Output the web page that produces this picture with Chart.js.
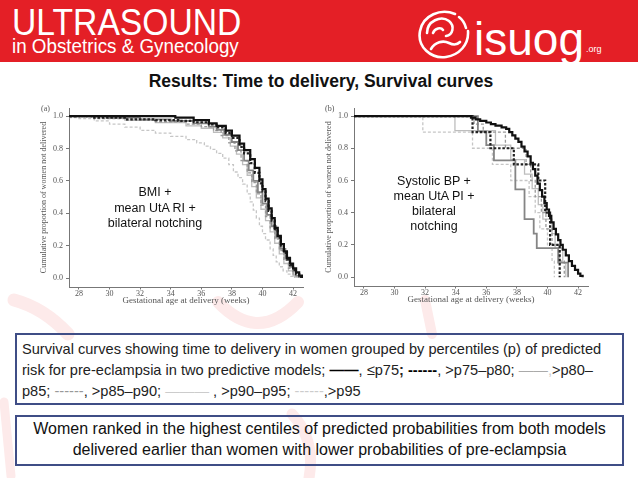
<!DOCTYPE html>
<html><head><meta charset="utf-8">
<script src="https://cdn.jsdelivr.net/npm/chart.js@4"></script>
<style>
html,body{margin:0;padding:0;}
body{width:638px;height:478px;position:relative;overflow:hidden;background:#fff;font-family:"Liberation Sans",Arial,sans-serif;color:#111;}
.abs{position:absolute;white-space:nowrap;}
#hdr{position:absolute;left:0;top:0;width:638px;height:62px;background:#e41f26;}
.wt{color:#fff;}
.box{position:absolute;left:15px;width:605px;border:2px solid #3f4d86;background:transparent;box-sizing:content-box;}
.serif{font-family:"Liberation Serif","DejaVu Serif",serif;color:#555;}
</style></head><body>
<svg class="abs" style="left:0;top:0" width="638" height="478">
  <g fill="none" stroke="#fdeaea" stroke-linecap="round">
    <path d="M14,300 Q44,308 68,334" stroke-width="13"/>
    <path d="M218,302 Q258,344 298,302" stroke-width="12"/>
    <path d="M425,300 L432,334" stroke-width="10"/>
    <path d="M4,402 L11,476" stroke-width="9"/>
    <path d="M292,414 Q316,440 309,478" stroke-width="11"/>
  </g>
</svg>
<div id="hdr">
  <div class="abs wt" style="left:12px;top:4.5px;font-size:36px;line-height:36px;transform:scaleX(0.935);transform-origin:0 0;">ULTRASOUND</div>
  <div class="abs wt" style="left:12px;top:36px;font-size:20px;line-height:20px;transform:scaleX(0.94);transform-origin:0 0;">in Obstetrics &amp; Gynecology</div>
  <svg class="abs" style="left:415px;top:9px" width="58" height="52" viewBox="0 0 58 52">
    <g fill="none" stroke="#fff" stroke-width="2.6" stroke-linecap="round">
      <path d="M40,5 C26,-1 8,6 5,22 C2,38 16,50 31,48 C44,46 54,36 53,22"/>
      <path d="M12,24 C12,12 26,6 34,12 C40,17 38,26 31,27"/>
      <path d="M18,24 C20,19 26,18 28,21"/>
      <path d="M16,40 C20,33 28,31 34,34 C38,36 42,36 45,33"/>
      <path d="M44,8 C48,11 50,15 51,19"/>
    </g>
  </svg>
  <div class="abs wt" style="left:474px;top:16px;font-size:46px;line-height:46px;">isuog</div>
  <div class="abs wt" style="left:586px;top:45px;font-size:9px;line-height:9px;">.org</div>
</div>
<div class="abs" style="left:0;width:642px;top:73.2px;font-size:17.5px;line-height:17.5px;font-weight:bold;text-align:center;">Results: Time to delivery, Survival curves</div>

<div class="abs" style="left:30px;top:100px;width:280px;height:210px;"><canvas id="ca" width="280" height="210"></canvas></div>
<div class="abs" style="left:315px;top:100px;width:280px;height:210px;"><canvas id="cb" width="280" height="210"></canvas></div>
<div class="abs serif" style="left:41px;top:105px;font-size:8px;line-height:8px;">(a)</div>
<div class="abs serif" style="left:325px;top:105px;font-size:8px;line-height:8px;">(b)</div>
<div class="abs" style="left:75px;width:160px;top:185.4px;font-size:12.5px;line-height:15.5px;text-align:center;">BMI +<br>mean UtA RI +<br>bilateral notching</div>
<div class="abs" style="left:354px;width:160px;top:173.7px;font-size:12.5px;line-height:15px;text-align:center;">Systolic BP +<br>mean UtA PI +<br>bilateral<br>notching</div>

<div class="box" style="top:333px;height:68px;">
  <div class="abs" style="left:5px;top:3.5px;font-size:14.6px;line-height:21px;color:#222;">Survival curves showing time to delivery in women grouped by percentiles (p) of predicted<br>risk for pre-eclampsia in two predictive models; <b style="color:#000">——</b>, ≤p75<b>;</b> <b style="color:#000">------</b>, &gt;p75–p80; <span style="color:#aaa">——</span><span style="color:#ccc">,</span>&gt;p80–<br>p85; <span style="color:#999">------</span>, &gt;p85–p90; <span style="color:#ccc">———</span> , &gt;p90–p95; <span style="color:#ccc">------</span>,&gt;p95</div>
</div>
<div class="box" style="top:415px;height:47px;">
  <div class="abs" style="left:0;width:605px;top:0.8px;font-size:16px;line-height:21px;text-align:center;color:#111;">Women ranked in the highest centiles of predicted probabilities from both models<br>delivered earlier than women with lower probabilities of pre-eclampsia</div>
</div>

<script>
// ---- data ----
const xTicks = [28, 30, 32, 34, 36, 38, 40, 42];
const yTicks = [0, 0.2, 0.4, 0.6, 0.8, 1.0];
const seriesLabels = ['≤p75', '>p75–p80', '>p80–p85', '>p85–p90', '>p90–p95', '>p95'];
const xTitle = 'Gestational age at delivery (weeks)';
const yTitle = 'Cumulative proportion of women not delivered';

// Panel (a): BMI + mean UtA RI + bilateral notching  [week, proportion]
const a_le75 = [[27.35,1],[34.3,0.99],[35.5,0.975],[36.5,0.955],[37.0,0.94],[37.6,0.91],[38.0,0.88],[38.5,0.83],[38.8,0.79],[39.2,0.735],[39.5,0.68],[39.8,0.61],[40.0,0.55],[40.2,0.49],[40.4,0.43],[40.6,0.37],[40.8,0.31],[41.0,0.26],[41.2,0.21],[41.4,0.165],[41.6,0.125],[41.8,0.09],[42.0,0.06],[42.2,0.035],[42.4,0.015],[42.6,0]];
const a_p75_80 = [[27.35,1],[29.0,0.99],[31.0,0.98],[33.0,0.975],[34.5,0.97],[35.5,0.962],[36.5,0.948],[37.0,0.93],[37.6,0.895],[38.0,0.865],[38.5,0.81],[38.8,0.77],[39.2,0.71],[39.5,0.65],[39.8,0.585],[40.0,0.535],[40.2,0.475],[40.4,0.415],[40.6,0.355],[40.8,0.30],[41.0,0.25],[41.2,0.2],[41.4,0.155],[41.6,0.115],[41.8,0.08],[42.0,0.05],[42.2,0.025],[42.4,0.008],[42.5,0]];
const a_p80_85 = [[27.35,1],[30.0,0.99],[32.0,0.98],[34.0,0.97],[35.5,0.955],[36.5,0.935],[37.0,0.915],[37.5,0.885],[38.0,0.84],[38.4,0.79],[38.8,0.725],[39.1,0.665],[39.4,0.60],[39.7,0.53],[40.0,0.46],[40.3,0.39],[40.6,0.32],[40.9,0.25],[41.2,0.18],[41.5,0.12],[41.8,0.07],[42.0,0.04],[42.2,0.015],[42.35,0]];
const a_p85_90 = [[27.35,0.995],[29.0,0.985],[31.0,0.975],[33.0,0.965],[35.0,0.95],[36.0,0.935],[36.8,0.91],[37.3,0.88],[37.8,0.835],[38.2,0.785],[38.6,0.725],[39.0,0.65],[39.3,0.59],[39.6,0.52],[39.9,0.45],[40.2,0.38],[40.5,0.31],[40.8,0.24],[41.1,0.17],[41.4,0.11],[41.7,0.06],[42.0,0.025],[42.2,0]];
const a_p90_95 = [[27.35,1],[29.0,0.99],[31.0,0.975],[33.0,0.96],[35.0,0.94],[36.0,0.925],[36.8,0.9],[37.4,0.865],[37.9,0.815],[38.3,0.765],[38.7,0.70],[39.0,0.635],[39.3,0.565],[39.6,0.495],[39.9,0.425],[40.2,0.355],[40.5,0.285],[40.8,0.215],[41.1,0.15],[41.4,0.09],[41.7,0.045],[42.0,0.015],[42.1,0]];
const a_gt95 = [[27.35,0.99],[28.0,0.985],[29.0,0.97],[30.0,0.95],[31.0,0.932],[32.0,0.912],[33.0,0.895],[34.0,0.875],[35.0,0.855],[35.7,0.835],[36.2,0.815],[36.6,0.795],[37.0,0.77],[37.4,0.74],[37.8,0.70],[38.1,0.655],[38.4,0.62],[38.7,0.58],[39.0,0.52],[39.2,0.47],[39.4,0.42],[39.6,0.37],[39.8,0.32],[40.0,0.275],[40.2,0.235],[40.5,0.18],[40.7,0.14],[40.9,0.10],[41.1,0.07],[41.35,0.045],[41.6,0.025],[41.8,0.01],[42.0,0]];

// Panel (b): Systolic BP + mean UtA PI + bilateral notching
const b_le75 = [[27.35,1],[35.0,0.99],[35.3,0.98],[35.6,0.97],[36.0,0.96],[36.3,0.95],[36.6,0.94],[37.0,0.93],[37.3,0.92],[37.5,0.90],[37.7,0.88],[37.9,0.86],[38.1,0.84],[38.3,0.81],[38.5,0.78],[38.7,0.75],[38.9,0.71],[39.05,0.67],[39.2,0.63],[39.35,0.58],[39.5,0.54],[39.65,0.50],[39.8,0.46],[39.95,0.42],[40.1,0.38],[40.25,0.34],[40.4,0.30],[40.55,0.265],[40.7,0.23],[40.85,0.20],[41.0,0.17],[41.2,0.135],[41.4,0.10],[41.6,0.07],[41.8,0.045],[42.0,0.022],[42.15,0.008],[42.3,0]];
const b_p75_80 = [[27.35,1],[35.1,0.9],[36.27,0.8],[37.8,0.7],[39.4,0.6],[39.85,0.4],[40.17,0.2],[40.8,0]];
const b_p80_85 = [[27.35,1],[35.45,0.905],[36.0,0.82],[36.5,0.725],[37.9,0.545],[38.5,0.36],[39.1,0.27],[39.3,0.18],[40.7,0.09],[41.35,0]];
const b_p85_90 = [[27.35,1],[35.2,0.95],[35.8,0.9],[37.25,0.8],[38.6,0.7],[38.9,0.6],[39.2,0.5],[39.6,0.4],[39.9,0.3],[40.3,0.2],[40.8,0.1],[41.1,0]];
const b_p90_95 = [[27.35,1],[33.95,0.91],[36.6,0.82],[37.6,0.73],[38.5,0.64],[39.0,0.55],[39.4,0.45],[39.7,0.36],[40.3,0.27],[40.5,0.18],[41.0,0.09],[41.2,0]];
const b_gt95 = [[27.35,1],[31.85,0.9],[35.1,0.8],[36.4,0.7],[37.6,0.6],[38.8,0.5],[39.2,0.4],[39.5,0.3],[40.0,0.2],[40.3,0.1],[40.45,0]];

// ---- styles ----
const lineStyles = [
  {c:'#111111', w:2.2, d:[]},
  {c:'#222222', w:2.2, d:[2.5,1.8]},
  {c:'#858585', w:1.8, d:[]},
  {c:'#9a9a9a', w:1.3, d:[3,2]},
  {c:'#bdbdbd', w:1.3, d:[]},
  {c:'#c6c6c6', w:1.3, d:[3,2]}
];
const SERIF = '"Liberation Serif","DejaVu Serif",serif';

function makeChart(id, series, padBottom) {
  return new Chart(document.getElementById(id), {
    type: 'line',
    data: {
      datasets: series.map((s, i) => ({
        label: seriesLabels[i],
        data: s.map(p => ({x: p[0], y: p[1]})),
        stepped: true,
        borderColor: lineStyles[i].c,
        borderWidth: lineStyles[i].w,
        borderDash: lineStyles[i].d,
        pointRadius: 0,
        fill: false
      }))
    },
    options: {
      responsive: false,
      animation: false,
      events: [],
      layout: {padding: {left: 9, top: 8, right: 7, bottom: padBottom}},
      plugins: {legend: {display: false}, tooltip: {enabled: false}},
      scales: {
        x: {
          type: 'linear', min: 27.35, max: 42.65,
          afterBuildTicks: s => { s.ticks = xTicks.map(v => ({value: v})); },
          afterFit: s => { s.height = 19.4; },
          ticks: {font: {family: SERIF, size: 8}, color: '#555', padding: 0, maxRotation: 0, autoSkip: false},
          grid: {display: true, drawOnChartArea: false, drawTicks: true, tickLength: 2.5, color: '#777'},
          border: {display: true, color: '#777', width: 1},
          title: {display: true, text: xTitle, font: {family: SERIF, size: 9}, color: '#555', padding: 0}
        },
        y: {
          type: 'linear', min: -0.055, max: 1.05,
          afterBuildTicks: s => { s.ticks = yTicks.map(v => ({value: v})); },
          afterFit: s => { s.width = 30; },
          ticks: {font: {family: SERIF, size: 8}, color: '#555', padding: 3, autoSkip: false, callback: v => v.toFixed(1)},
          grid: {display: true, drawOnChartArea: false, drawTicks: true, tickLength: 3, color: '#777'},
          border: {display: true, color: '#777', width: 1},
          title: {display: true, text: yTitle, font: {family: SERIF, size: 8}, color: '#555', padding: 0}
        }
      }
    }
  });
}
makeChart('ca', [a_le75, a_p75_80, a_p80_85, a_p85_90, a_p90_95, a_gt95], 3.6);
makeChart('cb', [b_le75, b_p75_80, b_p80_85, b_p85_90, b_p90_95, b_gt95], 4.6);
</script>
</body></html>
